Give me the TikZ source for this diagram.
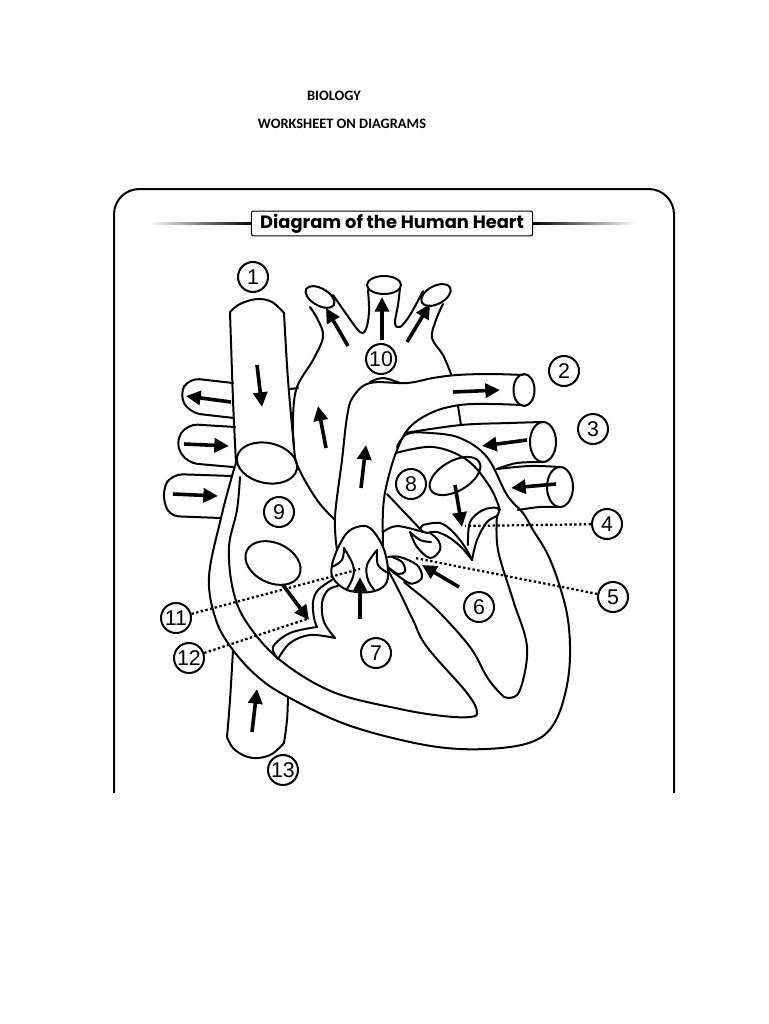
\documentclass[tikz,border=0pt]{standalone}
\usepackage{fontspec}
\setmainfont{Carlito}
\newfontfamily\numf{Liberation Sans}
\newfontfamily\titlef{Poppins}
\usetikzlibrary{arrows.meta}
\tikzset{
  wall/.style={line width=1.5pt,line join=round,line cap=round},
  curve/.style={wall,smooth,tension=0.6},
  tube/.style={wall,rounded corners=8pt},
  flow/.style={line width=2.7pt,-{Triangle[length=11pt,width=10.5pt]}},
  numcircle/.style={circle,draw,line width=1.5pt,minimum size=22.5pt,inner sep=0pt,font=\numf\fontsize{16}{18}\selectfont},
  leader/.style={line width=1.7pt,dash pattern=on 1.8pt off 1.8pt},
  head/.style={font=\bfseries\fontsize{10.8}{13}\selectfont,inner sep=0pt}
}
\begin{document}
\begin{tikzpicture}[x=0.75pt,y=-0.75pt]
\useasboundingbox (0,0) rectangle (768,1024);
\fill[white] (0,0) rectangle (768,1024);
\node[head] (t1) at (334,96) {BIOLOGY};
\node[head] (t2) at (342,123.5) {WORKSHEET ON DIAGRAMS};
% frame
\draw[line width=1.5pt,rounded corners=19pt] (114,793)--(114,189)--(674,189)--(674,793);
\shade[left color=white,right color=black] (148,222.5) rectangle (251,224);
\shade[left color=black,right color=white] (533,222.5) rectangle (636,224);
\node[draw,line width=0.8pt,rounded corners=1.5pt,minimum width=211pt,minimum height=18.5pt,inner sep=0pt,font=\titlef\bfseries\fontsize{13.4}{15}\selectfont] (title) at (392,223.5) {Diagram of the Human Heart};
% superior vena cava
\draw[curve] plot coordinates {(236,463)(233,400)(230,312)};
\draw[curve] plot coordinates {(230,312)(240,304)(257,299)(272,302)(284,313)};
\draw[curve] plot coordinates {(284,313)(288,380)(294,447)};
\draw[wall,rotate around={-12:(267,463)}] (267,463) ellipse [x radius=30.5,y radius=20];
% left vessels
\draw[tube] (233,383)--(189,378)--(179,395)--(190,413)--(234,418);
\draw[tube] (235,427)--(187,424)--(175,443)--(187,463)--(233,467);
\draw[tube] (232,476)--(172,474)--(162,490)--(168,516)--(221,518);
% connector behind
\draw[wall] (290,389)--(298,388);
% aorta outline
\draw[curve] plot coordinates {(335,520)(317,500)(298,467)(294,447)(293,417)(297,387)(313,360)(323,337)(318,320)(310,307)};
\draw[wall,rotate around={-30:(320,297)}] (320,297) ellipse [x radius=16,y radius=8.5];
\draw[curve] plot coordinates {(333,295)(347,315)(360,332)(366,329)(369,312)(368,290)};
\draw[wall] (384,285) ellipse [x radius=17,y radius=9];
\draw[curve] plot coordinates {(400,288)(398,305)(395,323)(400,327)(410,315)(423,291)};
\draw[wall,rotate around={28:(436,295)}] (436,295) ellipse [x radius=16,y radius=9];
\draw[curve] plot coordinates {(443,304)(436,320)(432,338)(443,355)(451,374)};
\draw[curve] plot coordinates {(370,382)(383,378)(400,383)};
% pulmonary trunk
\draw[curve] plot coordinates {(337,550)(335,517)(342,460)(347,417)(353,397)(370,383)(407,383)(433,378)(457,375)(490,374)(523,375)};
\draw[wall] (524,390) ellipse [x radius=10.5,y radius=16];
\draw[curve] plot coordinates {(522,405)(490,404)(460,405)(433,412)(410,427)(397,450)(387,483)(383,510)(383,547)};
\draw[wall] (458,406)--(461,425);
% vessels 3, 4
\draw[curve] plot coordinates {(405,433)(461,425)(510,423)(543,422)};
\draw[wall] (543,442) ellipse [x radius=13,y radius=20];
\draw[curve] plot coordinates {(543,462)(517,463)(497,469)};
\draw[curve] plot coordinates {(497,469)(530,466)(560,467)};
\draw[wall] (560,487) ellipse [x radius=13,y radius=20];
\draw[curve] plot coordinates {(560,507)(540,507)(518,510)};
% outer heart
\draw[curve] plot coordinates {(236,463)(232,476)(221,518)(209,577)(216,620)(233,650)(258,677)(288,697)(345,724)(410,742)(460,749)(510,747)(540,738)(556,720)(566,690)(570,657)(568,620)(560,587)(548,555)(533,530)(523,513)(507,495)(487,457)(460,438)(430,433)(407,434)(397,447)};
% inner right atrium wall and septum
\draw[curve] plot coordinates {(240,477)(237,510)(229,547)(233,590)(247,623)(280,660)(333,692)(400,709)(443,716)(470,717)(477,712)(467,693)(427,647)(413,620)(400,593)(388,570)};
% LV inner
\draw[curve] plot coordinates {(404,582)(410,587)(437,610)(470,647)(487,677)(500,693)(508,698)(520,690)(527,647)(513,600)(498,550)(497,515)};
% left atrium inner
\draw[curve] plot coordinates {(396,453)(433,447)(467,460)(490,487)(500,510)};
% septal diagonal
\draw[wall] (387,494)--(423,532);
% ovals
\draw[wall,rotate around={30:(455,476)}] (455,476) ellipse [x radius=28,y radius=15];
\draw[wall,rotate around={-25:(273,563)}] (273,563) ellipse [x radius=29,y radius=20];
% tricuspid valve
\draw[curve] plot coordinates {(332,580)(318,590)(313,602)(314,618)(317,627)};
\draw[curve] plot coordinates {(317,627)(290,633)(273,647)(278,659)};
\draw[curve] plot coordinates {(278,659)(290,643)(310,635)(335,638)};
\draw[curve] plot coordinates {(335,638)(324,622)(322,603)(328,590)(338,586)};
% root of pulmonary artery with cusps
\draw[curve] plot coordinates {(337,550)(346,534)(357,527)(370,528)(383,547)(388,570)(385,585)(370,592)(347,590)(333,578)(332,565)(337,550)};
\draw[curve] plot coordinates {(344,548)(342,560)(332,567)};
\draw[curve] plot coordinates {(344,548)(353,565)(353,577)(347,589)};
\draw[curve] plot coordinates {(377,550)(367,565)(368,580)(375,591)};
\draw[curve] plot coordinates {(377,550)(378,565)(388,573)};
% cusps near 6
\draw[curve] plot coordinates {(383,532)(397,526)(423,532)};
\draw[curve] plot coordinates {(410,532)(417,547)(430,558)(440,550)(438,540)(430,533)};
\draw[curve] plot coordinates {(410,532)(420,540)(431,542)};
\draw[curve] plot coordinates {(423,525)(440,523)(453,532)(465,547)(472,560)};
\draw[curve] plot coordinates {(427,533)(437,532)(450,538)(462,548)(472,560)};
\draw[curve] plot coordinates {(423,525)(420,530)(427,533)};
\draw[curve] plot coordinates {(472,560)(477,540)(487,522)(498,515)(497,508)(483,510)(470,522)(468,545)};
\draw[curve] plot coordinates {(388,557)(400,557)(417,565)(422,577)(415,583)(407,582)(388,568)};
\draw[curve] plot coordinates {(392,557)(402,562)(405,571)(398,574)(388,567)};
% inferior vena cava
\draw[curve] plot coordinates {(233,650)(230,700)(227,737)};
\draw[curve] plot coordinates {(227,737)(233,748)(245,756)(258,758)(272,754)(284,743)};
\draw[curve] plot coordinates {(284,743)(287,720)(288,697)};
% numbers
\node[numcircle] (n1) at (253,277) {1};
\node[numcircle] (n2) at (564,371) {2};
\node[numcircle] (n3) at (593,429) {3};
\node[numcircle] (n4) at (607,524) {4};
\node[numcircle] (n5) at (613,597) {5};
\node[numcircle] (n6) at (479,607) {6};
\node[numcircle] (n7) at (376,653) {7};
\node[numcircle] (n8) at (411,484) {8};
\node[numcircle] (n9) at (279,512) {9};
\node[numcircle] (n10) at (381,359) {10};
\node[numcircle] (n11) at (176,618) {11};
\node[numcircle] (n12) at (189,658) {12};
\node[numcircle] (n13) at (283,770) {13};
% leaders
\coordinate (c4) at (465,526);
\coordinate (c5) at (415,558);
\coordinate (c11) at (360,569);
\coordinate (c12) at (307,619);
\draw[leader] (n4)--(c4);
\draw[leader] (n5)--(c5);
\draw[leader] (n11)--(c11);
\draw[leader] (n12)--(c12);
% flow arrows
\draw[flow] (257,365)--(262,407);
\draw[flow] (231,402)--(186,396);
\draw[flow] (184,444)--(229,446);
\draw[flow] (173,494)--(218,496);
\draw[flow] (326,448)--(318,406);
\draw[flow] (361,488)--(366,445);
\draw[flow] (348,346)--(326,308);
\draw[flow] (382,340)--(382,297);
\draw[flow] (407,342)--(430,304);
\draw[flow] (453,392)--(500,390);
\draw[flow] (527,440)--(482,446);
\draw[flow] (556,484)--(511,488);
\draw[flow] (455,485)--(462,527);
\draw[flow] (283,585)--(309,620);
\draw[flow] (360,619)--(360,577);
\draw[flow] (252,732)--(257,689);
\draw[flow] (459,587)--(422,565);
\end{tikzpicture}
\end{document}
